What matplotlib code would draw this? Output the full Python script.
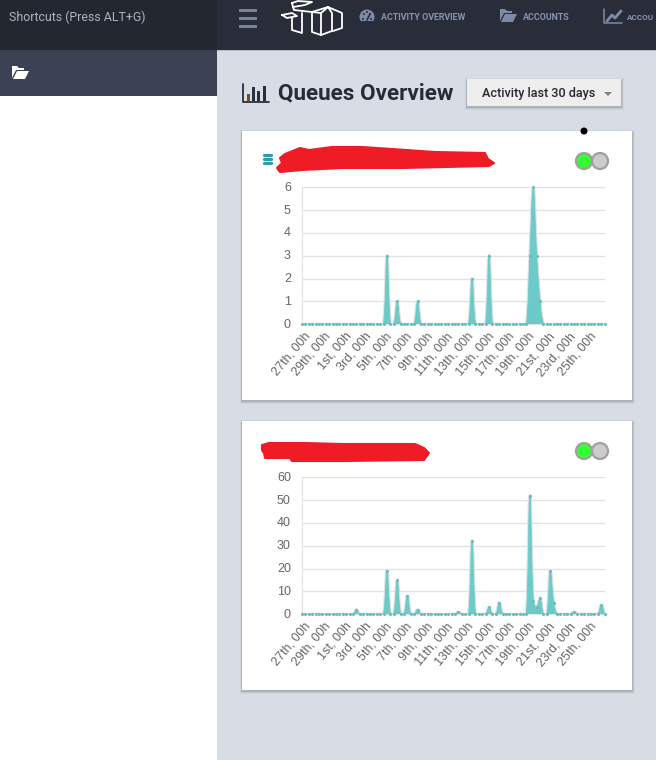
import numpy as np
import matplotlib
matplotlib.use("Agg")
import matplotlib.pyplot as plt
from matplotlib.patches import Rectangle, Circle, Polygon, PathPatch
from matplotlib.path import Path
from matplotlib.transforms import ScaledTranslation

plt.rcParams['font.family'] = ['Liberation Sans', 'DejaVu Sans']

day_labels = ["27th, 00h", "29th, 00h", "1st, 00h", "3rd, 00h", "5th, 00h", "7th, 00h",
              "9th, 00h", "11th, 00h", "13th, 00h", "15th, 00h", "17th, 00h", "19th, 00h",
              "21st, 00h", "23rd, 00h", "25th, 00h"]
n_points = 90
label_step = 6

# index of the 8 hour sample -> value, everything else is 0
queue1_peaks = {25: 3, 28: 1, 34: 1, 50: 2, 55: 3, 67: 3, 68: 6, 69: 3, 70: 1}
queue2_peaks = {16: 2, 25: 19, 28: 15, 31: 8, 34: 2, 46: 1, 50: 32, 55: 3, 58: 5,
                67: 52, 68: 6, 69: 3, 70: 7, 73: 19, 74: 5, 80: 1, 88: 4}
queue1_ticks = [0, 1, 2, 3, 4, 5, 6]
queue2_ticks = [0, 10, 20, 30, 40, 50, 60]

W, H = 656, 760
fig = plt.figure(figsize=(W / 100, H / 100), dpi=100)

# page furniture is drawn in pixel coordinates
bg = fig.add_axes([0, 0, 1, 1])
bg.set_xlim(0, W)
bg.set_ylim(H, 0)
bg.axis("off")


def rect(x, y, w, h, color, z=1, alpha=None):
    bg.add_patch(Rectangle((x, y), w, h, facecolor=color, edgecolor="none", zorder=z, alpha=alpha))


def lines(points, color="white", lw=1.2, z=5):
    xs, ys = zip(*points)
    bg.plot(xs, ys, color=color, lw=lw, solid_capstyle="round", solid_joinstyle="round", zorder=z)


def folder(x, y, color):
    bg.add_patch(Polygon([(x, y + 12), (x, y), (x + 5, y), (x + 7, y + 2), (x + 12, y + 2),
                          (x + 12, y + 4), (x + 4, y + 4)], facecolor=color, edgecolor="none", zorder=5))
    bg.add_patch(Polygon([(x + 1, y + 13), (x + 5, y + 5), (x + 17, y + 5), (x + 13, y + 13)],
                         facecolor=color, edgecolor="none", zorder=5))


def shadow(x, y, w, h, z):
    for grow, alpha in ((2.5, 0.05), (1.5, 0.08), (0.7, 0.14)):
        rect(x - grow, y + 1.5 - grow, w + 2 * grow, h + 2 * grow, "#30343c", z, alpha)


rect(0, 0, W, H, "#d8dde5", 0)
rect(0, 0, 217, 50, "#23272f")
rect(217, 0, W - 217, 50, "#282d39")
rect(0, 49, W, 2, "#b9bec6", 0.5)
rect(0, 50, 217, 46, "#3c4254", 2)
rect(0, 96, 217, H - 96, "white", 2)

bg.text(9, 17, "Shortcuts (Press ALT+G)", color="#a9b4c2", fontsize=8.9, va="center", family="Roboto", zorder=5)
folder(12, 66, "white")

# hamburger
for y in (10, 18, 26):
    rect(239, y - 1, 18, 3.4, "#7a859b", 3)

# logo
logo_parts = [
    [(282, 15), (292, 13), (297, 16), (287, 18), (282, 15)],
    [(292, 3), (298, 1), (312, 2), (305, 5), (293, 7), (292, 3)],
    [(293, 7), (294, 10), (312, 12)],
    [(292, 18), (292, 30), (302, 33), (302, 13)],
    [(312, 12), (328, 7), (342, 13), (342, 28), (333, 31)],
    [(312, 12), (312, 32), (321, 35), (321, 13), (312, 12)],
    [(321, 35), (332, 31), (332, 13), (328, 7)],
    [(321, 13), (328, 7)],
]
for part in logo_parts:
    lines(part, lw=1.3)

# nav
nav_blue = "#7d8aa8"
nav_text = "#8794b0"
bg.add_patch(Circle((367, 17), 7.5, facecolor=nav_blue, edgecolor="none", zorder=5))
rect(359, 21, 16, 4, "#282d39", 5.5)
for dx, dy in [(-4, 2), (-3, -3), (0, -5), (3, -3), (4, 2)]:
    bg.add_patch(Circle((367 + dx, 17 + dy), 1, facecolor="#282d39", edgecolor="none", zorder=6))
lines([(367, 20), (370, 14)], color="#282d39", lw=1.2, z=6)
bg.text(381, 17, "ACTIVITY OVERVIEW", color=nav_text, fontsize=6.4, va="center", family="Roboto", weight="bold", zorder=5)
folder(500, 9, nav_blue)
bg.text(523, 17, "ACCOUNTS", color=nav_text, fontsize=6.4, va="center", family="Roboto", weight="bold", zorder=5)
lines([(604, 9), (604, 23), (622, 23)], color=nav_blue, lw=1.1)
lines([(607, 21), (612, 15), (615, 18), (621, 11)], color=nav_blue, lw=2)
bg.text(627, 17, "ACCOU", color=nav_text, fontsize=5.8, va="center", family="Roboto", weight="bold", zorder=5)

# title row
lines([(242.5, 84), (242.5, 102), (269, 102)], color="#2b2f3d", lw=1.3)
rect(247, 94, 3, 7, "#7b4a33", 5)
rect(252, 87, 3, 14, "#2b2f3d", 5)
rect(257, 91, 3, 10, "#2b2f3d", 5)
rect(263, 86, 3, 15, "#2b2f3d", 5)
bg.text(278, 93, "Queues Overview", color="#272b38", fontsize=16.2, va="center", family="Roboto", weight="bold", zorder=5)
shadow(467, 79, 154, 27, 3)
rect(467, 79, 154, 27, "#eeeeee", 4)
bg.text(482, 93.5, "Activity last 30 days", color="#25282f", fontsize=9.1, va="center", family="Roboto", weight="medium", zorder=5)
bg.add_patch(Polygon([(604, 92), (612, 92), (608, 96)], facecolor="#808080", edgecolor="none", zorder=5))

# cards
for top, height in ((131, 269), (421, 269)):
    shadow(242, top, 390, height, 3)
    rect(242, top, 390, height, "white", 4)
    bg.add_patch(Circle((584, top + 30), 8, facecolor="#33ff33", edgecolor="#a0a0a0", lw=1.6, zorder=6))
    bg.add_patch(Circle((600, top + 30), 8, facecolor="#cccccc", edgecolor="#a0a0a0", lw=1.6, zorder=5.5))

bg.add_patch(Circle((584, 131), 3.5, facecolor="black", edgecolor="none", zorder=7))

# db icon
for y in (155, 159, 163):
    lines([(264, y), (271, y)], color="#2b9db0", lw=2.3, z=5)

# red scribbles
scribble1 = [(280, 158), (285, 154), (300, 148), (309, 150), (332, 147), (362, 147), (392, 149), (435, 152),
             (485, 153), (488, 159), (494, 163), (489, 166), (402, 168), (342, 168), (302, 170), (280, 172),
             (277, 168), (282, 163)]
scribble2 = [(262, 445), (269, 443), (305, 443), (342, 444), (415, 444), (424, 448), (429, 453), (424, 460),
             (342, 461), (292, 461), (290, 458), (265, 458), (264, 453), (262, 450)]
for shape in (scribble1, scribble2):
    bg.add_patch(Polygon(shape, facecolor="#ef1c25", edgecolor="#ef1c25", lw=1.5, joinstyle="round", zorder=6))


def chart_axes(y_top, y_bottom):
    x0, x1 = 302, 604.7
    return fig.add_axes([x0 / W, 1 - y_bottom / H, (x1 - x0) / W, (y_bottom - y_top) / H])


def spline_path(ax, xs, ys, tension=0.4):
    # chart.js style bezier, worked out in screen space
    pts = ax.transData.transform(np.column_stack([xs, ys]))
    before, after = [], []
    for i in range(len(pts)):
        prev = pts[max(i - 1, 0)]
        cur = pts[i]
        nxt = pts[min(i + 1, len(pts) - 1)]
        d01 = np.hypot(*(cur - prev))
        d12 = np.hypot(*(nxt - cur))
        total = d01 + d12
        fa = tension * d01 / total
        fb = tension * d12 / total
        before.append(cur - fa * (nxt - prev))
        after.append(cur + fb * (nxt - prev))
    verts = [pts[0]]
    codes = [Path.MOVETO]
    for i in range(len(pts) - 1):
        verts += [after[i], before[i + 1], pts[i + 1]]
        codes += [Path.CURVE4] * 3
    verts = ax.transData.inverted().transform(np.array(verts))
    verts[:, 1] = np.maximum(verts[:, 1], 0)
    return verts, codes


def draw_chart(y_top, y_bottom, peaks, ticks):
    ax = chart_axes(y_top, y_bottom)
    ax.patch.set_alpha(0)
    xs = np.arange(n_points)
    ys = np.zeros(n_points)
    for k, v in peaks.items():
        ys[k] = v
    ax.set_xlim(0, n_points - 1)
    ax.set_ylim(0, ticks[-1])

    verts, codes = spline_path(ax, xs, ys)
    fill_verts = np.vstack([verts, [xs[-1], 0], [xs[0], 0], verts[0]])
    fill_codes = codes + [Path.LINETO, Path.LINETO, Path.CLOSEPOLY]
    ax.add_patch(PathPatch(Path(fill_verts, fill_codes), facecolor="#6ccbc9", edgecolor="#6ccbc9", lw=0.6, zorder=3))
    ax.add_patch(PathPatch(Path(verts, codes), facecolor="none", edgecolor="#dcdfe1", lw=2.2, zorder=2.5))
    ax.plot(xs, ys, ls="none", marker="o", ms=2.2, mfc="#63bfbf", mec="#63bfbf", mew=0, clip_on=False, zorder=4)

    ax.set_yticks(ticks)
    ax.set_xticks(xs[::label_step][:len(day_labels)])
    ax.set_xticklabels(day_labels, rotation=50, ha="right", rotation_mode="anchor")
    ax.tick_params(axis="both", length=0, labelsize=9, labelcolor="#666666")
    ax.tick_params(axis="y", pad=8)
    ax.tick_params(axis="x", pad=5)
    ax.grid(axis="y", color="#e2e2e2", lw=1)
    ax.set_axisbelow(True)
    for s in ("top", "right"):
        ax.spines[s].set_visible(False)
    ax.spines["left"].set_color("#e2e2e2")
    ax.spines["bottom"].set_color("#e2e2e2")

    # nudge the labels a pixel or so
    up = ScaledTranslation(0, 1 / 100, fig.dpi_scale_trans)
    for label in ax.get_yticklabels():
        label.set_transform(label.get_transform() + up)
    right = ScaledTranslation(1.5 / 100, 1 / 100, fig.dpi_scale_trans)
    for label in ax.get_xticklabels():
        label.set_transform(label.get_transform() + right)


draw_chart(187.3, 324.3, queue1_peaks, queue1_ticks)
draw_chart(477.3, 614.3, queue2_peaks, queue2_ticks)

fig.savefig("out.png", dpi=100)
